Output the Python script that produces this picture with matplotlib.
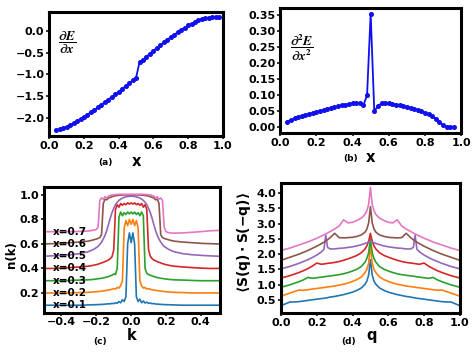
import numpy as np
import matplotlib.pyplot as plt

plt.rcParams['font.family'] = 'DejaVu Sans'
plt.rcParams['font.weight'] = 'bold'

# ---- (a) first derivative ----
x_a = np.round(np.arange(0.04, 0.99, 0.02), 2)
dE = [-2.29, -2.27, -2.24, -2.21, -2.17, -2.13, -2.08, -2.03, -1.98, -1.93,
      -1.87, -1.82, -1.76, -1.70, -1.64, -1.58, -1.52, -1.46, -1.40, -1.33,
      -1.27, -1.20, -1.14, -1.08, -0.72, -0.66, -0.59, -0.52, -0.45, -0.39,
      -0.33, -0.26, -0.20, -0.14, -0.08, -0.03, 0.03, 0.08, 0.13, 0.17,
      0.21, 0.25, 0.28, 0.30, 0.31, 0.32, 0.32, 0.32]

# ---- (b) second derivative ----
x_b = np.round(np.arange(0.04, 0.97, 0.02), 2)
d2E = [0.017, 0.022, 0.027, 0.031, 0.035, 0.038, 0.041, 0.044, 0.047, 0.050,
       0.053, 0.056, 0.059, 0.062, 0.065, 0.068, 0.070, 0.072, 0.074, 0.075,
       0.075, 0.069, 0.099, 0.355, 0.049, 0.066, 0.074, 0.075, 0.074, 0.072,
       0.070, 0.068, 0.066, 0.063, 0.060, 0.057, 0.053, 0.049, 0.045, 0.040,
       0.034, 0.026, 0.016, 0.005, 0.001, 0.000, 0.000]

# ---- (c) momentum distribution n(k) ----
k_grid = np.concatenate([[-0.5, -0.45, -0.4, -0.35, -0.3, -0.25],
                         np.round(np.arange(-24, 25) * 0.01, 2),
                         [0.25, 0.3, 0.35, 0.4, 0.45, 0.5]])
nk_labels = ['x=0.1', 'x=0.2', 'x=0.3', 'x=0.4', 'x=0.5', 'x=0.6', 'x=0.7']
nk_levels = [0.1, 0.2, 0.3, 0.4, 0.5, 0.6, 0.7]

nk_01 = ([0.10, 0.10, 0.10, 0.10, 0.10, 0.102]
         + [.103, .103, .104, .104, .105, .105, .106, .107, .107, .109, .110,
            .112, .111, .115, .113, .12, .116, .13, .12, .145, .13]
         + [.17, .60, .69, .61, .69, .60, .17]
         + [.13, .15, .12, .135, .118, .125, .115, .118, .112, .114, .11,
            .109, .108, .107, .106, .105, .105, .104, .104, .103, .103]
         + [0.102, 0.10, 0.10, 0.10, 0.10, 0.10])
nk_02 = ([0.20, 0.20, 0.20, 0.20, 0.203, 0.205]
         + [.206, .207, .208, .209, .21, .212, .213, .215, .217, .219, .221,
            .224, .227, .23, .235, .232, .245, .24, .26]
         + [.30, .73, .79, .75, .80, .76, .80, .75, .79, .73, .30]
         + [.26, .24, .245, .232, .235, .23, .227, .224, .221, .219, .217,
            .215, .213, .212, .21, .209, .208, .207, .206]
         + [0.205, 0.203, 0.20, 0.20, 0.20, 0.20])
nk_03 = ([0.30, 0.30, 0.30, 0.302, 0.305, 0.307]
         + [.308, .309, .31, .312, .314, .316, .318, .32, .323, .326, .33,
            .334, .34, .345, .355, .35]
         + [.40, .82, .86, .83, .855, .84, .86, .845, .86, .845, .86, .84,
            .855, .83, .86, .83, .40]
         + [.36, .35, .345, .34, .334, .33, .326, .323, .32, .318, .316,
            .314, .312, .31, .309, .308]
         + [0.307, 0.305, 0.302, 0.30, 0.30, 0.30])
nk_04 = ([0.40, 0.40, 0.403, 0.407, 0.412, 0.418]
         + [.42, .422, .425, .428, .431, .435, .44, .445, .45, .456, .462,
            .47, .48, .495]
         + [.55, .88, .92, .90, .93, .915, .93, .92, .935, .925, .935, .925,
            .935, .92, .93, .915, .93, .90, .92, .88, .55]
         + [.50, .48, .47, .462, .456, .45, .445, .44, .435, .431, .428,
            .425, .422, .42]
         + [0.418, 0.412, 0.407, 0.403, 0.40, 0.40])
nk_05 = ([0.50, 0.503, 0.507, 0.512, 0.52, 0.535]
         + [.54, .546, .553, .56, .57, .58, .595, .615, .64, .67, .71, .76,
            .81, .855, .89, .92, .94, .955, .966, .974, .98, .984, .987, .989]
         + [.99]
         + [.989, .987, .984, .98, .974, .966, .955, .94, .92, .89, .855,
            .81, .76, .71, .67, .64, .615, .595, .58, .57, .56, .553, .546, .54]
         + [0.535, 0.52, 0.512, 0.507, 0.503, 0.50])
nk_06 = ([0.60, 0.602, 0.605, 0.61, 0.615, 0.622]
         + [.625, .628, .632, .636, .64, .645, .652]
         + [.675, .93, .965, .96, .975, .98, .985, .99, .993, .995, .997,
            .998, .999, 1.0, 1.0, 1.0, 1.0, 1.0, 1.0, 1.0, 1.0, 1.0, .999,
            .998, .997, .995, .993, .99, .985, .98, .975, .96, .965, .93, .675]
         + [.652, .645, .64, .636, .632, .628, .625]
         + [0.622, 0.615, 0.61, 0.605, 0.602, 0.60])
nk_07 = ([0.70, 0.70, 0.70, 0.70, 0.702, 0.705]
         + [.707, .709, .711, .714, .718]
         + [.735, .955, .975, .965, .985, .975, .99, .995, 1.0, 1.0, 1.003,
            1.003, 1.005, 1.005, 1.005, 1.005, 1.005, 1.005, 1.005, 1.005,
            1.005, 1.005, 1.005, 1.005, 1.005, 1.005, 1.005, 1.003, 1.003,
            1.0, 1.0, .995, .99, .975, .985, .965, .975, .955, .735]
         + [.70, .695, .69, .69, .688]
         + [0.688, 0.69, 0.695, 0.70, 0.707, 0.71])
nk_curves = [nk_01, nk_02, nk_03, nk_04, nk_05, nk_06, nk_07]

# ---- (d) structure factor ----
q_grid = [0, .025, .05, .075, .1, .125, .15, .175, .2, .225, .24, .25, .26,
          .275, .3, .325, .35, .375, .4, .425, .45, .47, .48, .49, .5,
          .51, .52, .53, .55, .575, .6, .625, .65, .675, .7, .725, .74, .75,
          .76, .775, .8, .825, .85, .875, .9, .925, .95, .975, 1.0]

sq_01 = [0.32, 0.38, 0.44, 0.44, 0.45, 0.47, 0.49, 0.51, 0.53, 0.55, 0.56,
         0.57, 0.58, 0.60, 0.62, 0.65, 0.68, 0.72, 0.76, 0.82, 0.90, 1.02,
         1.12, 1.32, 1.82,
         1.32, 1.12, 1.02, 0.90, 0.82, 0.76, 0.72, 0.68, 0.65, 0.62, 0.60,
         0.58, 0.57, 0.56, 0.55, 0.53, 0.51, 0.49, 0.47, 0.45, 0.44, 0.44,
         0.38, 0.32]
sq_02 = [0.63, 0.68, 0.73, 0.78, 0.83, 0.82, 0.84, 0.86, 0.88, 0.90, 0.91,
         0.92, 0.93, 0.94, 0.96, 0.99, 1.02, 1.06, 1.11, 1.17, 1.26, 1.40,
         1.50, 1.70, 2.32,
         1.70, 1.50, 1.40, 1.26, 1.17, 1.11, 1.06, 1.02, 0.99, 0.96, 0.94,
         0.93, 0.92, 0.91, 0.90, 0.88, 0.86, 0.84, 0.82, 0.83, 0.78, 0.73,
         0.68, 0.63]
sq_03 = [0.92, 0.96, 1.00, 1.05, 1.10, 1.16, 1.24, 1.21, 1.23, 1.25, 1.26,
         1.27, 1.28, 1.29, 1.31, 1.33, 1.36, 1.40, 1.45, 1.51, 1.60, 1.74,
         1.86, 2.05, 2.50,
         2.05, 1.86, 1.74, 1.60, 1.51, 1.45, 1.40, 1.36, 1.33, 1.31, 1.29,
         1.28, 1.27, 1.26, 1.25, 1.23, 1.21, 1.24, 1.16, 1.10, 1.05, 1.00,
         0.96, 0.92]
sq_04 = [1.22, 1.26, 1.30, 1.35, 1.40, 1.46, 1.53, 1.61, 1.71, 1.67, 1.68,
         1.69, 1.70, 1.71, 1.73, 1.76, 1.80, 1.85, 1.90, 1.96, 2.05, 2.17,
         2.27, 2.42, 2.68,
         2.42, 2.27, 2.17, 2.05, 1.96, 1.90, 1.85, 1.80, 1.76, 1.73, 1.71,
         1.70, 1.69, 1.68, 1.67, 1.71, 1.61, 1.53, 1.46, 1.40, 1.35, 1.30,
         1.26, 1.22]
sq_05 = [1.52, 1.56, 1.60, 1.65, 1.70, 1.76, 1.82, 1.89, 1.97, 2.07, 2.16,
         2.62, 2.22, 2.17, 2.17, 2.19, 2.20, 2.22, 2.24, 2.27, 2.31, 2.35,
         2.37, 2.40, 2.42,
         2.40, 2.37, 2.35, 2.31, 2.27, 2.24, 2.22, 2.20, 2.19, 2.17, 2.17,
         2.22, 2.62, 2.16, 2.07, 1.97, 1.89, 1.82, 1.76, 1.70, 1.65, 1.60,
         1.56, 1.52]
sq_06 = [1.80, 1.85, 1.90, 1.95, 2.00, 2.06, 2.12, 2.19, 2.26, 2.34, 2.39,
         2.43, 2.47, 2.54, 2.68, 2.54, 2.53, 2.54, 2.55, 2.58, 2.63, 2.72,
         2.82, 3.02, 3.55,
         3.02, 2.82, 2.72, 2.63, 2.58, 2.55, 2.54, 2.53, 2.54, 2.68, 2.54,
         2.47, 2.43, 2.39, 2.34, 2.26, 2.19, 2.12, 2.06, 2.00, 1.95, 1.90,
         1.85, 1.80]
sq_07 = [2.12, 2.16, 2.20, 2.25, 2.30, 2.35, 2.40, 2.46, 2.52, 2.59, 2.63,
         2.66, 2.69, 2.74, 2.82, 2.92, 3.12, 3.02, 3.04, 3.10, 3.18, 3.30,
         3.42, 3.62, 4.18,
         3.62, 3.42, 3.30, 3.18, 3.10, 3.04, 3.02, 3.12, 2.92, 2.82, 2.74,
         2.69, 2.66, 2.63, 2.59, 2.52, 2.46, 2.40, 2.35, 2.30, 2.25, 2.20,
         2.16, 2.12]
sq_curves = [sq_01, sq_02, sq_03, sq_04, sq_05, sq_06, sq_07]

fig = plt.figure(figsize=(4.74, 3.54), dpi=100)

ax_a = fig.add_axes([0.104, 0.616, 0.366, 0.350])
ax_b = fig.add_axes([0.591, 0.624, 0.382, 0.353])
ax_c = fig.add_axes([0.093, 0.117, 0.371, 0.356])
ax_d = fig.add_axes([0.593, 0.115, 0.377, 0.367])

for ax in (ax_a, ax_b, ax_c, ax_d):
    for s in ax.spines.values():
        s.set_linewidth(2.2)
    ax.tick_params(labelsize=8, length=2.5, width=1.1, pad=1.0)

# (a)
ax_a.plot(x_a, dE, '-o', color='#1010ee', ms=2.6, lw=1.3)
ax_a.set_xlim(0, 1)
ax_a.set_ylim(-2.42, 0.44)
ax_a.set_xticks([0, 0.2, 0.4, 0.6, 0.8, 1.0])
ax_a.set_yticks([-2.0, -1.5, -1.0, -0.5, 0.0])
ax_a.text(0.1, 0.75, r'$\dfrac{\partial E}{\partial x}$', transform=ax_a.transAxes,
          fontsize=9.5, math_fontfamily='stix', ha='center', va='center')

# (b)
ax_b.plot(x_b, d2E, '-o', color='#1010ee', ms=2.6, lw=1.3)
ax_b.set_xlim(0, 1)
ax_b.set_ylim(-0.019, 0.372)
ax_b.set_xticks([0, 0.2, 0.4, 0.6, 0.8, 1.0])
ax_b.set_yticks([0, 0.05, 0.1, 0.15, 0.2, 0.25, 0.3, 0.35])
ax_b.yaxis.set_major_formatter(plt.FormatStrFormatter('%.2f'))
ax_b.text(0.12, 0.68, r'$\dfrac{\partial^2 E}{\partial x^2}$', transform=ax_b.transAxes,
          fontsize=9.5, math_fontfamily='stix', ha='center', va='center')

# (c)
for i, vals in enumerate(nk_curves):
    ax_c.plot(k_grid, vals, color=f'C{i}', lw=1.2)
for lab, lev in zip(nk_labels, nk_levels):
    ax_c.text(-0.447, lev, lab, fontsize=7.5, fontweight='bold', va='center', ha='left')
ax_c.set_xlim(-0.5, 0.51)
ax_c.set_ylim(0.04, 1.068)
ax_c.set_xticks([-0.4, -0.2, 0.0, 0.2, 0.4])
ax_c.set_yticks([0.2, 0.4, 0.6, 0.8, 1.0])

# (d)
for i, vals in enumerate(sq_curves):
    ax_d.plot(q_grid, vals, color=f'C{i}', lw=1.2)
ax_d.set_xlim(0, 1)
ax_d.set_ylim(0.07, 4.31)
ax_d.set_xticks([0, 0.2, 0.4, 0.6, 0.8, 1.0])
ax_d.set_yticks([0.5, 1.0, 1.5, 2.0, 2.5, 3.0, 3.5, 4.0])

# labels
fig.text(0.223, 0.540, '(a)', fontsize=6.5, ha='center', va='center')
fig.text(0.287, 0.544, 'x', fontsize=10.5, ha='center', va='center')
fig.text(0.739, 0.552, '(b)', fontsize=6.5, ha='center', va='center')
fig.text(0.781, 0.556, 'x', fontsize=10.5, ha='center', va='center')
fig.text(0.211, 0.034, '(c)', fontsize=6.5, ha='center', va='center')
fig.text(0.278, 0.051, 'k', fontsize=10.5, ha='center', va='center')
fig.text(0.736, 0.034, '(d)', fontsize=6.5, ha='center', va='center')
fig.text(0.783, 0.051, 'q', fontsize=10.5, ha='center', va='center')
fig.text(0.024, 0.282, 'n(k)', fontsize=8.5, rotation=90, ha='center', va='center')
fig.text(0.514, 0.316, r'$\langle\mathbf{S(q)\cdot S(-q)}\rangle$', fontsize=10,
         rotation=90, ha='center', va='center')

fig.savefig('out.png', dpi=100)
